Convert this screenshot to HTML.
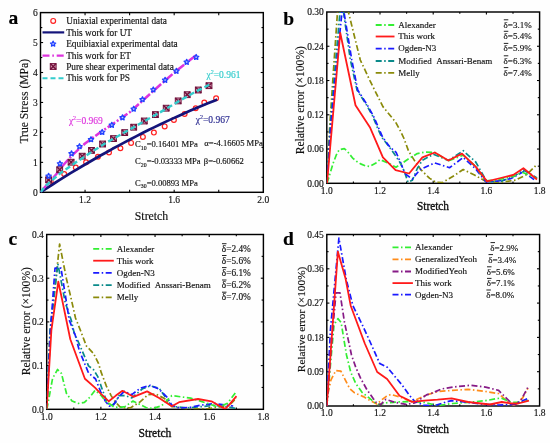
<!DOCTYPE html>
<html><head><meta charset="utf-8"><style>
html,body{margin:0;padding:0;background:#fff;}
svg{display:block;font-family:"Liberation Serif", serif;filter:blur(0.3px);}
</style></head><body>
<svg width="550" height="443" viewBox="0 0 550 443">
<rect width="550" height="443" fill="#fefefe"/>
<defs>
<clipPath id="ca"><rect x="40.5" y="12.6" width="222.8" height="179.7"/></clipPath>
<clipPath id="cb"><rect x="326.8" y="12" width="212.8" height="171.3"/></clipPath>
<clipPath id="cc"><rect x="46.7" y="234.5" width="216.7" height="174.8"/></clipPath>
<clipPath id="cd"><rect x="326.8" y="234.5" width="212.8" height="171.5"/></clipPath>
</defs>
<line x1="85.06" y1="192.3" x2="85.06" y2="189.70000000000002" stroke="#000" stroke-width="1.1"/>
<line x1="85.06" y1="12.6" x2="85.06" y2="15.2" stroke="#000" stroke-width="1.1"/>
<line x1="129.62" y1="192.3" x2="129.62" y2="189.70000000000002" stroke="#000" stroke-width="1.1"/>
<line x1="129.62" y1="12.6" x2="129.62" y2="15.2" stroke="#000" stroke-width="1.1"/>
<line x1="174.18000000000004" y1="192.3" x2="174.18000000000004" y2="189.70000000000002" stroke="#000" stroke-width="1.1"/>
<line x1="174.18000000000004" y1="12.6" x2="174.18000000000004" y2="15.2" stroke="#000" stroke-width="1.1"/>
<line x1="218.74" y1="192.3" x2="218.74" y2="189.70000000000002" stroke="#000" stroke-width="1.1"/>
<line x1="218.74" y1="12.6" x2="218.74" y2="15.2" stroke="#000" stroke-width="1.1"/>
<line x1="40.5" y1="162.35000000000002" x2="43.1" y2="162.35000000000002" stroke="#000" stroke-width="1.1"/>
<line x1="263.3" y1="162.35000000000002" x2="260.7" y2="162.35000000000002" stroke="#000" stroke-width="1.1"/>
<line x1="40.5" y1="132.4" x2="43.1" y2="132.4" stroke="#000" stroke-width="1.1"/>
<line x1="263.3" y1="132.4" x2="260.7" y2="132.4" stroke="#000" stroke-width="1.1"/>
<line x1="40.5" y1="102.45" x2="43.1" y2="102.45" stroke="#000" stroke-width="1.1"/>
<line x1="263.3" y1="102.45" x2="260.7" y2="102.45" stroke="#000" stroke-width="1.1"/>
<line x1="40.5" y1="72.5" x2="43.1" y2="72.5" stroke="#000" stroke-width="1.1"/>
<line x1="263.3" y1="72.5" x2="260.7" y2="72.5" stroke="#000" stroke-width="1.1"/>
<line x1="40.5" y1="42.55000000000001" x2="43.1" y2="42.55000000000001" stroke="#000" stroke-width="1.1"/>
<line x1="263.3" y1="42.55000000000001" x2="260.7" y2="42.55000000000001" stroke="#000" stroke-width="1.1"/>
<line x1="40.5" y1="177.32500000000002" x2="42.3" y2="177.32500000000002" stroke="#000" stroke-width="1.1"/>
<line x1="263.3" y1="177.32500000000002" x2="261.5" y2="177.32500000000002" stroke="#000" stroke-width="1.1"/>
<line x1="40.5" y1="147.375" x2="42.3" y2="147.375" stroke="#000" stroke-width="1.1"/>
<line x1="263.3" y1="147.375" x2="261.5" y2="147.375" stroke="#000" stroke-width="1.1"/>
<line x1="40.5" y1="117.42500000000001" x2="42.3" y2="117.42500000000001" stroke="#000" stroke-width="1.1"/>
<line x1="263.3" y1="117.42500000000001" x2="261.5" y2="117.42500000000001" stroke="#000" stroke-width="1.1"/>
<line x1="40.5" y1="87.475" x2="42.3" y2="87.475" stroke="#000" stroke-width="1.1"/>
<line x1="263.3" y1="87.475" x2="261.5" y2="87.475" stroke="#000" stroke-width="1.1"/>
<line x1="40.5" y1="57.525000000000006" x2="42.3" y2="57.525000000000006" stroke="#000" stroke-width="1.1"/>
<line x1="263.3" y1="57.525000000000006" x2="261.5" y2="57.525000000000006" stroke="#000" stroke-width="1.1"/>
<line x1="40.5" y1="27.57499999999999" x2="42.3" y2="27.57499999999999" stroke="#000" stroke-width="1.1"/>
<line x1="263.3" y1="27.57499999999999" x2="261.5" y2="27.57499999999999" stroke="#000" stroke-width="1.1"/>
<rect x="40.5" y="12.6" width="222.8" height="179.70000000000002" fill="none" stroke="#000" stroke-width="1.45"/>
<circle cx="50.7" cy="181.5" r="2.4" fill="none" stroke="#ff2020" stroke-width="1.2"/>
<circle cx="64.2" cy="174" r="2.4" fill="none" stroke="#ff2020" stroke-width="1.2"/>
<circle cx="75.8" cy="167.5" r="2.4" fill="none" stroke="#ff2020" stroke-width="1.2"/>
<circle cx="86.1" cy="162.2" r="2.4" fill="none" stroke="#ff2020" stroke-width="1.2"/>
<circle cx="97.9" cy="156.8" r="2.4" fill="none" stroke="#ff2020" stroke-width="1.2"/>
<circle cx="109" cy="152.5" r="2.4" fill="none" stroke="#ff2020" stroke-width="1.2"/>
<circle cx="120.4" cy="148.2" r="2.4" fill="none" stroke="#ff2020" stroke-width="1.2"/>
<circle cx="131.1" cy="142.9" r="2.4" fill="none" stroke="#ff2020" stroke-width="1.2"/>
<circle cx="142.9" cy="136.9" r="2.4" fill="none" stroke="#ff2020" stroke-width="1.2"/>
<circle cx="153.9" cy="132.6" r="2.4" fill="none" stroke="#ff2020" stroke-width="1.2"/>
<circle cx="164.7" cy="126.4" r="2.4" fill="none" stroke="#ff2020" stroke-width="1.2"/>
<circle cx="173.9" cy="120" r="2.4" fill="none" stroke="#ff2020" stroke-width="1.2"/>
<circle cx="184.6" cy="114" r="2.4" fill="none" stroke="#ff2020" stroke-width="1.2"/>
<circle cx="195.7" cy="108.2" r="2.4" fill="none" stroke="#ff2020" stroke-width="1.2"/>
<circle cx="204.3" cy="102.6" r="2.4" fill="none" stroke="#ff2020" stroke-width="1.2"/>
<circle cx="216.1" cy="98.3" r="2.4" fill="none" stroke="#ff2020" stroke-width="1.2"/>
<polyline points="40.5,192.3 46.5,188.4 52.5,184.5 58.5,180.7 64.5,176.9 70.5,173.2 76.5,169.6 82.5,166.0 88.5,162.5 94.5,159.0 100.5,155.5 106.5,152.2 112.5,148.8 118.5,145.6 124.5,142.4 130.5,139.2 136.5,136.1 142.5,133.0 148.5,130.0 154.5,127.1 160.5,124.2 166.5,121.4 172.5,118.6 178.5,115.9 184.5,113.2 190.5,110.6 196.5,108.0 202.5,105.5 208.5,103.1 214.5,100.7 217.2,99.6" fill="none" stroke="#14147a" stroke-width="2.7" stroke-linejoin="round" clip-path="url(#ca)"/>
<polyline points="40.5,192.3 44.0,188.0 50.0,181.5 56.0,174.5 63.0,165.5 70.0,157.5 78.0,149.8 85.0,143.5 100.0,132.5 115.0,122.5 130.0,112.0 145.0,98.5 160.0,85.0 175.0,72.0 190.0,60.0 197.0,54.5" fill="none" stroke="#dd33dd" stroke-width="2.5" stroke-dasharray="9,2,2,2" stroke-linejoin="round" clip-path="url(#ca)" stroke-dashoffset="11"/>
<rect x="45.70" y="176.90" width="5.80" height="5.80" fill="#d8a0b8" stroke="#70103a" stroke-width="1.0"/><path d="M45.70,176.90L51.50,182.70M51.50,176.90L45.70,182.70" stroke="#70103a" stroke-width="1.4"/>
<rect x="56.80" y="166.80" width="5.80" height="5.80" fill="#d8a0b8" stroke="#70103a" stroke-width="1.0"/><path d="M56.80,166.80L62.60,172.60M62.60,166.80L56.80,172.60" stroke="#70103a" stroke-width="1.4"/>
<rect x="68.20" y="159.30" width="5.80" height="5.80" fill="#d8a0b8" stroke="#70103a" stroke-width="1.0"/><path d="M68.20,159.30L74.00,165.10M74.00,159.30L68.20,165.10" stroke="#70103a" stroke-width="1.4"/>
<rect x="79.30" y="153.30" width="5.80" height="5.80" fill="#d8a0b8" stroke="#70103a" stroke-width="1.0"/><path d="M79.30,153.30L85.10,159.10M85.10,153.30L79.30,159.10" stroke="#70103a" stroke-width="1.4"/>
<rect x="88.60" y="147.50" width="5.80" height="5.80" fill="#d8a0b8" stroke="#70103a" stroke-width="1.0"/><path d="M88.60,147.50L94.40,153.30M94.40,147.50L88.60,153.30" stroke="#70103a" stroke-width="1.4"/>
<rect x="99.70" y="141.10" width="5.80" height="5.80" fill="#d8a0b8" stroke="#70103a" stroke-width="1.0"/><path d="M99.70,141.10L105.50,146.90M105.50,141.10L99.70,146.90" stroke="#70103a" stroke-width="1.4"/>
<rect x="110.60" y="135.70" width="5.80" height="5.80" fill="#d8a0b8" stroke="#70103a" stroke-width="1.0"/><path d="M110.60,135.70L116.40,141.50M116.40,135.70L110.60,141.50" stroke="#70103a" stroke-width="1.4"/>
<rect x="121.80" y="129.70" width="5.80" height="5.80" fill="#d8a0b8" stroke="#70103a" stroke-width="1.0"/><path d="M121.80,129.70L127.60,135.50M127.60,129.70L121.80,135.50" stroke="#70103a" stroke-width="1.4"/>
<rect x="130.80" y="124.30" width="5.80" height="5.80" fill="#d8a0b8" stroke="#70103a" stroke-width="1.0"/><path d="M130.80,124.30L136.60,130.10M136.60,124.30L130.80,130.10" stroke="#70103a" stroke-width="1.4"/>
<rect x="141.40" y="118.10" width="5.80" height="5.80" fill="#d8a0b8" stroke="#70103a" stroke-width="1.0"/><path d="M141.40,118.10L147.20,123.90M147.20,118.10L141.40,123.90" stroke="#70103a" stroke-width="1.4"/>
<rect x="152.50" y="111.70" width="5.80" height="5.80" fill="#d8a0b8" stroke="#70103a" stroke-width="1.0"/><path d="M152.50,111.70L158.30,117.50M158.30,111.70L152.50,117.50" stroke="#70103a" stroke-width="1.4"/>
<rect x="163.30" y="105.30" width="5.80" height="5.80" fill="#d8a0b8" stroke="#70103a" stroke-width="1.0"/><path d="M163.30,105.30L169.10,111.10M169.10,105.30L163.30,111.10" stroke="#70103a" stroke-width="1.4"/>
<rect x="175.30" y="98.00" width="5.80" height="5.80" fill="#d8a0b8" stroke="#70103a" stroke-width="1.0"/><path d="M175.30,98.00L181.10,103.80M181.10,98.00L175.30,103.80" stroke="#70103a" stroke-width="1.4"/>
<rect x="184.30" y="91.80" width="5.80" height="5.80" fill="#d8a0b8" stroke="#70103a" stroke-width="1.0"/><path d="M184.30,91.80L190.10,97.60M190.10,91.80L184.30,97.60" stroke="#70103a" stroke-width="1.4"/>
<rect x="195.40" y="87.10" width="5.80" height="5.80" fill="#d8a0b8" stroke="#70103a" stroke-width="1.0"/><path d="M195.40,87.10L201.20,92.90M201.20,87.10L195.40,92.90" stroke="#70103a" stroke-width="1.4"/>
<rect x="206.10" y="82.80" width="5.80" height="5.80" fill="#d8a0b8" stroke="#70103a" stroke-width="1.0"/><path d="M206.10,82.80L211.90,88.60M211.90,82.80L206.10,88.60" stroke="#70103a" stroke-width="1.4"/>
<polygon points="48.60,173.40 49.39,175.01 51.17,175.27 49.88,176.52 50.19,178.28 48.60,177.45 47.01,178.28 47.32,176.52 46.03,175.27 47.81,175.01" fill="#c8d0ff" stroke="#2040ff" stroke-width="1.35" stroke-linejoin="round"/>
<polygon points="59.90,161.00 60.69,162.61 62.47,162.87 61.18,164.12 61.49,165.88 59.90,165.05 58.31,165.88 58.62,164.12 57.33,162.87 59.11,162.61" fill="#c8d0ff" stroke="#2040ff" stroke-width="1.35" stroke-linejoin="round"/>
<polygon points="71.50,150.90 72.29,152.51 74.07,152.77 72.78,154.02 73.09,155.78 71.50,154.95 69.91,155.78 70.22,154.02 68.93,152.77 70.71,152.51" fill="#c8d0ff" stroke="#2040ff" stroke-width="1.35" stroke-linejoin="round"/>
<polygon points="79.50,143.80 80.29,145.41 82.07,145.67 80.78,146.92 81.09,148.68 79.50,147.85 77.91,148.68 78.22,146.92 76.93,145.67 78.71,145.41" fill="#c8d0ff" stroke="#2040ff" stroke-width="1.35" stroke-linejoin="round"/>
<polygon points="91.00,136.80 91.79,138.41 93.57,138.67 92.28,139.92 92.59,141.68 91.00,140.85 89.41,141.68 89.72,139.92 88.43,138.67 90.21,138.41" fill="#c8d0ff" stroke="#2040ff" stroke-width="1.35" stroke-linejoin="round"/>
<polygon points="102.20,129.50 102.99,131.11 104.77,131.37 103.48,132.62 103.79,134.38 102.20,133.55 100.61,134.38 100.92,132.62 99.63,131.37 101.41,131.11" fill="#c8d0ff" stroke="#2040ff" stroke-width="1.35" stroke-linejoin="round"/>
<polygon points="111.80,122.40 112.59,124.01 114.37,124.27 113.08,125.52 113.39,127.28 111.80,126.45 110.21,127.28 110.52,125.52 109.23,124.27 111.01,124.01" fill="#c8d0ff" stroke="#2040ff" stroke-width="1.35" stroke-linejoin="round"/>
<polygon points="122.50,114.90 123.29,116.51 125.07,116.77 123.78,118.02 124.09,119.78 122.50,118.95 120.91,119.78 121.22,118.02 119.93,116.77 121.71,116.51" fill="#c8d0ff" stroke="#2040ff" stroke-width="1.35" stroke-linejoin="round"/>
<polygon points="133.70,106.30 134.49,107.91 136.27,108.17 134.98,109.42 135.29,111.18 133.70,110.35 132.11,111.18 132.42,109.42 131.13,108.17 132.91,107.91" fill="#c8d0ff" stroke="#2040ff" stroke-width="1.35" stroke-linejoin="round"/>
<polygon points="142.50,96.80 143.29,98.41 145.07,98.67 143.78,99.92 144.09,101.68 142.50,100.85 140.91,101.68 141.22,99.92 139.93,98.67 141.71,98.41" fill="#c8d0ff" stroke="#2040ff" stroke-width="1.35" stroke-linejoin="round"/>
<polygon points="153.30,87.00 154.09,88.61 155.87,88.87 154.58,90.12 154.89,91.88 153.30,91.05 151.71,91.88 152.02,90.12 150.73,88.87 152.51,88.61" fill="#c8d0ff" stroke="#2040ff" stroke-width="1.35" stroke-linejoin="round"/>
<polygon points="165.10,77.40 165.89,79.01 167.67,79.27 166.38,80.52 166.69,82.28 165.10,81.45 163.51,82.28 163.82,80.52 162.53,79.27 164.31,79.01" fill="#c8d0ff" stroke="#2040ff" stroke-width="1.35" stroke-linejoin="round"/>
<polygon points="176.40,68.40 177.19,70.01 178.97,70.27 177.68,71.52 177.99,73.28 176.40,72.45 174.81,73.28 175.12,71.52 173.83,70.27 175.61,70.01" fill="#c8d0ff" stroke="#2040ff" stroke-width="1.35" stroke-linejoin="round"/>
<polygon points="186.70,59.40 187.49,61.01 189.27,61.27 187.98,62.52 188.29,64.28 186.70,63.45 185.11,64.28 185.42,62.52 184.13,61.27 185.91,61.01" fill="#c8d0ff" stroke="#2040ff" stroke-width="1.35" stroke-linejoin="round"/>
<polygon points="196.20,54.50 196.99,56.11 198.77,56.37 197.48,57.62 197.79,59.38 196.20,58.55 194.61,59.38 194.92,57.62 193.63,56.37 195.41,56.11" fill="#c8d0ff" stroke="#2040ff" stroke-width="1.35" stroke-linejoin="round"/>
<polyline points="40.5,192.3 45.0,186.5 50.0,182.0 60.0,173.5 75.0,163.0 90.0,153.0 105.0,143.5 120.0,135.0 135.0,126.5 150.0,118.0 165.0,109.5 180.0,100.5 195.0,92.0 211.8,83.5" fill="none" stroke="#33cccc" stroke-width="2.4" stroke-dasharray="5.5,3" stroke-linejoin="round" clip-path="url(#ca)"/>
<text x="37.8" y="195.60000000000002" font-size="9.5" text-anchor="end" font-weight="normal" fill="#111" stroke="#111" stroke-width="0.15">0</text>
<text x="37.8" y="165.65000000000003" font-size="9.5" text-anchor="end" font-weight="normal" fill="#111" stroke="#111" stroke-width="0.15">1</text>
<text x="37.8" y="135.70000000000002" font-size="9.5" text-anchor="end" font-weight="normal" fill="#111" stroke="#111" stroke-width="0.15">2</text>
<text x="37.8" y="105.75" font-size="9.5" text-anchor="end" font-weight="normal" fill="#111" stroke="#111" stroke-width="0.15">3</text>
<text x="37.8" y="75.8" font-size="9.5" text-anchor="end" font-weight="normal" fill="#111" stroke="#111" stroke-width="0.15">4</text>
<text x="37.8" y="45.85000000000001" font-size="9.5" text-anchor="end" font-weight="normal" fill="#111" stroke="#111" stroke-width="0.15">5</text>
<text x="37.8" y="15.899999999999995" font-size="9.5" text-anchor="end" font-weight="normal" fill="#111" stroke="#111" stroke-width="0.15">6</text>
<text x="85.06" y="203" font-size="9.5" text-anchor="middle" font-weight="normal" fill="#111" stroke="#111" stroke-width="0.15">1.2</text>
<text x="174.18000000000004" y="203" font-size="9.5" text-anchor="middle" font-weight="normal" fill="#111" stroke="#111" stroke-width="0.15">1.6</text>
<text x="263.3" y="203" font-size="9.5" text-anchor="middle" font-weight="normal" fill="#111" stroke="#111" stroke-width="0.15">2.0</text>
<text x="151.5" y="220.3" font-size="12" text-anchor="middle" font-weight="normal" fill="#111" stroke="#111" stroke-width="0.15" textLength="33.4" lengthAdjust="spacingAndGlyphs">Stretch</text>
<text transform="translate(28.4,101.3) rotate(-90)" font-size="11.6" text-anchor="middle" fill="#111" stroke="#111" stroke-width="0.15">True Stress (MPa)</text>
<text x="13.3" y="24.4" font-size="19.5" text-anchor="middle" font-weight="bold" fill="#000" stroke="#000" stroke-width="0.15">a</text>
<circle cx="53.2" cy="20.9" r="2.4" fill="none" stroke="#ff2020" stroke-width="1.2"/>
<text x="66.2" y="24.2" font-size="9.3" text-anchor="start" font-weight="normal" fill="#111" stroke="#111" stroke-width="0.15">Uniaxial experimental data</text>
<line x1="42.5" y1="32.4" x2="64.2" y2="32.4" stroke="#14147a" stroke-width="2.2"/>
<text x="66.2" y="35.6" font-size="9.3" text-anchor="start" font-weight="normal" fill="#111" stroke="#111" stroke-width="0.15">This work for UT</text>
<polygon points="53.10,41.20 53.89,42.81 55.67,43.07 54.38,44.32 54.69,46.08 53.10,45.25 51.51,46.08 51.82,44.32 50.53,43.07 52.31,42.81" fill="#c8d0ff" stroke="#2040ff" stroke-width="1.35" stroke-linejoin="round"/>
<text x="66.2" y="46.8" font-size="9.3" text-anchor="start" font-weight="normal" fill="#111" stroke="#111" stroke-width="0.15">Equibiaxial experimental data</text>
<line x1="42.5" y1="55.6" x2="64.2" y2="55.6" stroke="#dd33dd" stroke-width="2.2" stroke-dasharray="7,2.8,1.6,2.8"/>
<text x="66.2" y="59.1" font-size="9.3" text-anchor="start" font-weight="normal" fill="#111" stroke="#111" stroke-width="0.15">This work for ET</text>
<rect x="50.30" y="63.60" width="5.80" height="5.80" fill="#d8a0b8" stroke="#70103a" stroke-width="1.0"/><path d="M50.30,63.60L56.10,69.40M56.10,63.60L50.30,69.40" stroke="#70103a" stroke-width="1.4"/>
<text x="66.2" y="69.6" font-size="9.3" text-anchor="start" font-weight="normal" fill="#111" stroke="#111" stroke-width="0.15">Pure shear experimental data</text>
<line x1="42.5" y1="78.2" x2="64.2" y2="78.2" stroke="#33cccc" stroke-width="2" stroke-dasharray="5,3"/>
<text x="66.2" y="81.2" font-size="9.3" text-anchor="start" font-weight="normal" fill="#111" stroke="#111" stroke-width="0.15">This work for PS</text>
<text x="68.9" y="123.6" font-size="9.5" text-anchor="start" font-weight="normal" fill="#dd33dd" stroke="#dd33dd" stroke-width="0.15">χ<tspan font-size="6" dy="-4">2</tspan><tspan dy="4">=0.969</tspan></text>
<text x="206.5" y="78.2" font-size="9.5" text-anchor="start" font-weight="normal" fill="#33cccc" stroke="#33cccc" stroke-width="0.15">χ<tspan font-size="6" dy="-4">2</tspan><tspan dy="4">=0.961</tspan></text>
<text x="195.7" y="122.5" font-size="9.5" text-anchor="start" font-weight="normal" fill="#2a2a90" stroke="#2a2a90" stroke-width="0.15">χ<tspan font-size="6" dy="-4">2</tspan><tspan dy="4">=0.967</tspan></text>
<text x="135.1" y="147.3" font-size="8.6" text-anchor="start" font-weight="normal" fill="#111" stroke="#111" stroke-width="0.15">C<tspan font-size="5.8" dy="2.5">10</tspan><tspan dy="-2.5">=0.16401 MPa</tspan></text>
<text x="204.3" y="145.8" font-size="8.6" text-anchor="start" font-weight="normal" fill="#111" stroke="#111" stroke-width="0.15">α=-4.16605 MPa</text>
<text x="135.1" y="164.4" font-size="8.6" text-anchor="start" font-weight="normal" fill="#111" stroke="#111" stroke-width="0.15">C<tspan font-size="5.8" dy="2.5">20</tspan><tspan dy="-2.5">=-0.03333 MPa</tspan></text>
<text x="203.8" y="163.8" font-size="8.6" text-anchor="start" font-weight="normal" fill="#111" stroke="#111" stroke-width="0.15">β=-0.60662</text>
<text x="135.1" y="185.5" font-size="8.6" text-anchor="start" font-weight="normal" fill="#111" stroke="#111" stroke-width="0.15">C<tspan font-size="5.8" dy="2.5">30</tspan><tspan dy="-2.5">=0.00893 MPa</tspan></text>
<line x1="380.0" y1="183.3" x2="380.0" y2="180.70000000000002" stroke="#000" stroke-width="1.1"/>
<line x1="380.0" y1="12" x2="380.0" y2="14.6" stroke="#000" stroke-width="1.1"/>
<line x1="433.2" y1="183.3" x2="433.2" y2="180.70000000000002" stroke="#000" stroke-width="1.1"/>
<line x1="433.2" y1="12" x2="433.2" y2="14.6" stroke="#000" stroke-width="1.1"/>
<line x1="486.40000000000003" y1="183.3" x2="486.40000000000003" y2="180.70000000000002" stroke="#000" stroke-width="1.1"/>
<line x1="486.40000000000003" y1="12" x2="486.40000000000003" y2="14.6" stroke="#000" stroke-width="1.1"/>
<line x1="353.40000000000003" y1="183.3" x2="353.40000000000003" y2="181.5" stroke="#000" stroke-width="1.1"/>
<line x1="353.40000000000003" y1="12" x2="353.40000000000003" y2="13.8" stroke="#000" stroke-width="1.1"/>
<line x1="406.6" y1="183.3" x2="406.6" y2="181.5" stroke="#000" stroke-width="1.1"/>
<line x1="406.6" y1="12" x2="406.6" y2="13.8" stroke="#000" stroke-width="1.1"/>
<line x1="459.8" y1="183.3" x2="459.8" y2="181.5" stroke="#000" stroke-width="1.1"/>
<line x1="459.8" y1="12" x2="459.8" y2="13.8" stroke="#000" stroke-width="1.1"/>
<line x1="513.0" y1="183.3" x2="513.0" y2="181.5" stroke="#000" stroke-width="1.1"/>
<line x1="513.0" y1="12" x2="513.0" y2="13.8" stroke="#000" stroke-width="1.1"/>
<line x1="326.8" y1="149.04000000000002" x2="329.40000000000003" y2="149.04000000000002" stroke="#000" stroke-width="1.1"/>
<line x1="539.6" y1="149.04000000000002" x2="537.0" y2="149.04000000000002" stroke="#000" stroke-width="1.1"/>
<line x1="326.8" y1="114.78" x2="329.40000000000003" y2="114.78" stroke="#000" stroke-width="1.1"/>
<line x1="539.6" y1="114.78" x2="537.0" y2="114.78" stroke="#000" stroke-width="1.1"/>
<line x1="326.8" y1="80.52000000000001" x2="329.40000000000003" y2="80.52000000000001" stroke="#000" stroke-width="1.1"/>
<line x1="539.6" y1="80.52000000000001" x2="537.0" y2="80.52000000000001" stroke="#000" stroke-width="1.1"/>
<line x1="326.8" y1="46.25999999999999" x2="329.40000000000003" y2="46.25999999999999" stroke="#000" stroke-width="1.1"/>
<line x1="539.6" y1="46.25999999999999" x2="537.0" y2="46.25999999999999" stroke="#000" stroke-width="1.1"/>
<line x1="326.8" y1="166.17000000000002" x2="328.6" y2="166.17000000000002" stroke="#000" stroke-width="1.1"/>
<line x1="539.6" y1="166.17000000000002" x2="537.8000000000001" y2="166.17000000000002" stroke="#000" stroke-width="1.1"/>
<line x1="326.8" y1="131.91000000000003" x2="328.6" y2="131.91000000000003" stroke="#000" stroke-width="1.1"/>
<line x1="539.6" y1="131.91000000000003" x2="537.8000000000001" y2="131.91000000000003" stroke="#000" stroke-width="1.1"/>
<line x1="326.8" y1="97.65" x2="328.6" y2="97.65" stroke="#000" stroke-width="1.1"/>
<line x1="539.6" y1="97.65" x2="537.8000000000001" y2="97.65" stroke="#000" stroke-width="1.1"/>
<line x1="326.8" y1="63.390000000000015" x2="328.6" y2="63.390000000000015" stroke="#000" stroke-width="1.1"/>
<line x1="539.6" y1="63.390000000000015" x2="537.8000000000001" y2="63.390000000000015" stroke="#000" stroke-width="1.1"/>
<line x1="326.8" y1="29.129999999999967" x2="328.6" y2="29.129999999999967" stroke="#000" stroke-width="1.1"/>
<line x1="539.6" y1="29.129999999999967" x2="537.8000000000001" y2="29.129999999999967" stroke="#000" stroke-width="1.1"/>
<rect x="326.8" y="12" width="212.8" height="171.3" fill="none" stroke="#000" stroke-width="1.45"/>
<polyline points="327.0,183.3 329.5,130.0 332.8,80.0 337.5,12.0 340.0,-20.0 345.0,-20.0 348.4,12.0 360.3,60.0 370.2,81.2 382.9,106.6 395.6,122.1 399.9,130.0 404.0,138.5 408.6,151.1 414.8,161.1 421.0,169.8 429.7,178.4 435.9,182.2 442.7,182.5 454.0,175.7 463.2,169.5 474.5,175.0 485.9,181.4 499.5,182.5 515.5,180.2 526.8,174.5 535.9,165.5" fill="none" stroke="#8a8a0a" stroke-width="1.7" stroke-dasharray="6,2.5,1.5,2.5" stroke-linejoin="round" clip-path="url(#cb)"/>
<polyline points="327.0,183.3 330.0,130.0 334.0,80.0 340.0,12.0 341.5,-2.0 350.4,60.0 357.0,90.0 366.5,104.9 372.5,115.7 377.0,126.6 381.5,137.0 388.7,146.1 393.7,153.0 399.9,162.3 404.2,171.0 408.0,182.2 412.3,180.3 417.3,168.5 422.2,160.4 433.4,154.2 448.4,160.5 463.2,150.7 475.7,162.0 487.0,181.8 500.7,181.4 513.2,176.8 523.4,170.0 537.0,178.0" fill="none" stroke="#0a8a8a" stroke-width="1.7" stroke-dasharray="6,2.5,1.5,2.5" stroke-linejoin="round" clip-path="url(#cb)"/>
<polyline points="327.0,183.3 330.5,130.0 335.0,80.0 342.0,12.0 342.8,5.0 351.8,60.0 357.7,90.0 367.2,104.9 373.3,115.7 378.0,126.6 382.5,137.0 389.5,146.5 396.1,152.4 400.5,162.3 404.8,173.5 412.3,179.1 419.8,169.8 434.7,162.9 449.5,167.7 463.2,157.5 475.7,168.9 485.9,181.8 498.4,180.9 510.9,178.6 523.4,171.8 535.9,180.9" fill="none" stroke="#1a1aff" stroke-width="1.7" stroke-dasharray="6,2.5,1.5,2.5" stroke-linejoin="round" clip-path="url(#cb)"/>
<polyline points="327.0,183.3 329.6,175.1 333.1,163.4 336.2,155.2 339.2,149.7 344.3,148.6 347.3,151.2 352.4,157.8 356.5,161.3 360.6,163.9 365.6,165.9 369.7,166.4 376.0,162.9 380.0,159.6 389.0,163.5 396.0,167.3 401.7,163.5 409.8,158.0 417.3,153.6 424.7,152.1 434.7,152.6 448.4,160.9 463.2,155.2 474.5,165.5 485.9,180.9 499.5,179.5 513.2,176.4 522.3,172.3 537.0,178.6" fill="none" stroke="#33ee33" stroke-width="1.7" stroke-dasharray="6,2.5,1.5,2.5" stroke-linejoin="round" clip-path="url(#cb)"/>
<polyline points="327.0,183.3 340.2,32.8 355.5,105.2 370.2,127.8 382.9,157.4 395.6,170.1 409.1,173.5 422.4,157.4 434.8,152.5 448.4,160.5 462.0,153.6 475.7,166.6 487.0,181.4 500.7,178.0 513.2,175.0 523.4,168.2 537.0,179.5" fill="none" stroke="#ff1a1a" stroke-width="1.8" stroke-linejoin="round" clip-path="url(#cb)"/>
<text x="323.8" y="186.60000000000002" font-size="9.5" text-anchor="end" font-weight="normal" fill="#111" stroke="#111" stroke-width="0.15">0.00</text>
<text x="323.8" y="152.34000000000003" font-size="9.5" text-anchor="end" font-weight="normal" fill="#111" stroke="#111" stroke-width="0.15">0.06</text>
<text x="323.8" y="118.08" font-size="9.5" text-anchor="end" font-weight="normal" fill="#111" stroke="#111" stroke-width="0.15">0.12</text>
<text x="323.8" y="83.82000000000001" font-size="9.5" text-anchor="end" font-weight="normal" fill="#111" stroke="#111" stroke-width="0.15">0.18</text>
<text x="323.8" y="49.55999999999999" font-size="9.5" text-anchor="end" font-weight="normal" fill="#111" stroke="#111" stroke-width="0.15">0.24</text>
<text x="323.8" y="15.3" font-size="9.5" text-anchor="end" font-weight="normal" fill="#111" stroke="#111" stroke-width="0.15">0.30</text>
<text x="326.8" y="193.5" font-size="9.5" text-anchor="middle" font-weight="normal" fill="#111" stroke="#111" stroke-width="0.15">1.0</text>
<text x="380.0" y="193.5" font-size="9.5" text-anchor="middle" font-weight="normal" fill="#111" stroke="#111" stroke-width="0.15">1.2</text>
<text x="433.2" y="193.5" font-size="9.5" text-anchor="middle" font-weight="normal" fill="#111" stroke="#111" stroke-width="0.15">1.4</text>
<text x="486.40000000000003" y="193.5" font-size="9.5" text-anchor="middle" font-weight="normal" fill="#111" stroke="#111" stroke-width="0.15">1.6</text>
<text x="539.6" y="193.5" font-size="9.5" text-anchor="middle" font-weight="normal" fill="#111" stroke="#111" stroke-width="0.15">1.8</text>
<text x="433" y="210.3" font-size="12" text-anchor="middle" font-weight="normal" fill="#111" stroke="#111" stroke-width="0.35" textLength="32" lengthAdjust="spacingAndGlyphs">Stretch</text>
<text transform="translate(304.3,100.2) rotate(-90)" font-size="11.6" text-anchor="middle" fill="#111" stroke="#111" stroke-width="0.15">Relative error (×100%)</text>
<text x="288.7" y="25.1" font-size="19.5" text-anchor="middle" font-weight="bold" fill="#000" stroke="#000" stroke-width="0.15">b</text>
<line x1="375.7" y1="25.0" x2="394.5" y2="25.0" stroke="#33ee33" stroke-width="1.8" stroke-dasharray="6,2.5,1.5,2.5"/>
<text x="398.2" y="27.8" font-size="9" text-anchor="start" font-weight="normal" fill="#111" stroke="#111" stroke-width="0.15">Alexander</text>
<line x1="375.7" y1="36.5" x2="394.5" y2="36.5" stroke="#ff1a1a" stroke-width="1.8"/>
<text x="398.2" y="39.3" font-size="9" text-anchor="start" font-weight="normal" fill="#111" stroke="#111" stroke-width="0.15">This work</text>
<line x1="375.7" y1="48.6" x2="394.5" y2="48.6" stroke="#1a1aff" stroke-width="1.8" stroke-dasharray="6,2.5,1.5,2.5"/>
<text x="398.2" y="51.4" font-size="9" text-anchor="start" font-weight="normal" fill="#111" stroke="#111" stroke-width="0.15">Ogden-N3</text>
<line x1="375.7" y1="61.0" x2="394.5" y2="61.0" stroke="#0a8a8a" stroke-width="1.8" stroke-dasharray="6,2.5,1.5,2.5"/>
<text x="398.2" y="63.8" font-size="9" text-anchor="start" font-weight="normal" fill="#111" stroke="#111" stroke-width="0.15">Modified&#160;&#160;Anssari-Benam</text>
<line x1="375.7" y1="72.8" x2="394.5" y2="72.8" stroke="#8a8a0a" stroke-width="1.8" stroke-dasharray="6,2.5,1.5,2.5"/>
<text x="398.2" y="75.6" font-size="9" text-anchor="start" font-weight="normal" fill="#111" stroke="#111" stroke-width="0.15">Melly</text>
<text x="503.6" y="27.8" font-size="9" text-anchor="start" font-weight="normal" fill="#111" stroke="#111" stroke-width="0.15">δ=3.1%</text>
<line x1="503.8" y1="19.8" x2="508.3" y2="19.8" stroke="#222" stroke-width="1.0"/>
<text x="503.6" y="39.3" font-size="9" text-anchor="start" font-weight="normal" fill="#111" stroke="#111" stroke-width="0.15">δ=5.4%</text>
<line x1="503.8" y1="31.299999999999997" x2="508.3" y2="31.299999999999997" stroke="#222" stroke-width="1.0"/>
<text x="503.6" y="51.4" font-size="9" text-anchor="start" font-weight="normal" fill="#111" stroke="#111" stroke-width="0.15">δ=5.9%</text>
<line x1="503.8" y1="43.4" x2="508.3" y2="43.4" stroke="#222" stroke-width="1.0"/>
<text x="503.6" y="63.8" font-size="9" text-anchor="start" font-weight="normal" fill="#111" stroke="#111" stroke-width="0.15">δ=6.3%</text>
<line x1="503.8" y1="55.8" x2="508.3" y2="55.8" stroke="#222" stroke-width="1.0"/>
<text x="503.6" y="75.6" font-size="9" text-anchor="start" font-weight="normal" fill="#111" stroke="#111" stroke-width="0.15">δ=7.4%</text>
<line x1="503.8" y1="67.6" x2="508.3" y2="67.6" stroke="#222" stroke-width="1.0"/>
<line x1="100.87499999999999" y1="409.3" x2="100.87499999999999" y2="406.7" stroke="#000" stroke-width="1.1"/>
<line x1="100.87499999999999" y1="234.5" x2="100.87499999999999" y2="237.1" stroke="#000" stroke-width="1.1"/>
<line x1="155.04999999999995" y1="409.3" x2="155.04999999999995" y2="406.7" stroke="#000" stroke-width="1.1"/>
<line x1="155.04999999999995" y1="234.5" x2="155.04999999999995" y2="237.1" stroke="#000" stroke-width="1.1"/>
<line x1="209.22500000000002" y1="409.3" x2="209.22500000000002" y2="406.7" stroke="#000" stroke-width="1.1"/>
<line x1="209.22500000000002" y1="234.5" x2="209.22500000000002" y2="237.1" stroke="#000" stroke-width="1.1"/>
<line x1="73.78750000000002" y1="409.3" x2="73.78750000000002" y2="407.5" stroke="#000" stroke-width="1.1"/>
<line x1="73.78750000000002" y1="234.5" x2="73.78750000000002" y2="236.3" stroke="#000" stroke-width="1.1"/>
<line x1="127.9625" y1="409.3" x2="127.9625" y2="407.5" stroke="#000" stroke-width="1.1"/>
<line x1="127.9625" y1="234.5" x2="127.9625" y2="236.3" stroke="#000" stroke-width="1.1"/>
<line x1="182.1375" y1="409.3" x2="182.1375" y2="407.5" stroke="#000" stroke-width="1.1"/>
<line x1="182.1375" y1="234.5" x2="182.1375" y2="236.3" stroke="#000" stroke-width="1.1"/>
<line x1="236.31250000000006" y1="409.3" x2="236.31250000000006" y2="407.5" stroke="#000" stroke-width="1.1"/>
<line x1="236.31250000000006" y1="234.5" x2="236.31250000000006" y2="236.3" stroke="#000" stroke-width="1.1"/>
<line x1="46.7" y1="365.6" x2="49.300000000000004" y2="365.6" stroke="#000" stroke-width="1.1"/>
<line x1="263.4" y1="365.6" x2="260.79999999999995" y2="365.6" stroke="#000" stroke-width="1.1"/>
<line x1="46.7" y1="321.9" x2="49.300000000000004" y2="321.9" stroke="#000" stroke-width="1.1"/>
<line x1="263.4" y1="321.9" x2="260.79999999999995" y2="321.9" stroke="#000" stroke-width="1.1"/>
<line x1="46.7" y1="278.2" x2="49.300000000000004" y2="278.2" stroke="#000" stroke-width="1.1"/>
<line x1="263.4" y1="278.2" x2="260.79999999999995" y2="278.2" stroke="#000" stroke-width="1.1"/>
<line x1="46.7" y1="387.45" x2="48.5" y2="387.45" stroke="#000" stroke-width="1.1"/>
<line x1="263.4" y1="387.45" x2="261.59999999999997" y2="387.45" stroke="#000" stroke-width="1.1"/>
<line x1="46.7" y1="343.75" x2="48.5" y2="343.75" stroke="#000" stroke-width="1.1"/>
<line x1="263.4" y1="343.75" x2="261.59999999999997" y2="343.75" stroke="#000" stroke-width="1.1"/>
<line x1="46.7" y1="300.05" x2="48.5" y2="300.05" stroke="#000" stroke-width="1.1"/>
<line x1="263.4" y1="300.05" x2="261.59999999999997" y2="300.05" stroke="#000" stroke-width="1.1"/>
<line x1="46.7" y1="256.35" x2="48.5" y2="256.35" stroke="#000" stroke-width="1.1"/>
<line x1="263.4" y1="256.35" x2="261.59999999999997" y2="256.35" stroke="#000" stroke-width="1.1"/>
<rect x="46.7" y="234.5" width="216.7" height="174.8" fill="none" stroke="#000" stroke-width="1.45"/>
<polyline points="46.7,409.3 50.4,330.0 59.6,244.0 66.5,279.0 71.0,298.0 75.5,318.0 80.5,330.5 86.4,346.0 93.6,353.6 98.6,363.7 101.2,372.4 106.4,386.1 111.1,395.6 114.9,401.3 119.7,406.6 124.4,408.0 130.7,407.7 139.5,402.3 148.2,394.6 155.8,394.1 164.5,398.5 171.8,406.3 186.4,409.2 208.2,408.7 222.7,406.3 229.3,405.1 236.5,398.0" fill="none" stroke="#8a8a0a" stroke-width="1.7" stroke-dasharray="6,2.5,1.5,2.5" stroke-linejoin="round" clip-path="url(#cc)"/>
<polyline points="46.7,409.3 50.0,330.0 57.9,263.9 65.2,302.5 71.2,320.0 74.1,332.8 80.3,346.4 88.5,365.8 93.6,369.8 97.8,376.6 102.1,389.0 107.3,403.2 112.1,405.1 115.9,402.3 118.7,395.7 125.3,395.7 131.8,397.9 142.7,388.6 150.4,385.9 159.1,388.1 166.0,398.0 171.8,406.3 186.4,408.0 202.4,406.5 214.0,405.4 225.6,406.5 236.0,408.4" fill="none" stroke="#0a8a8a" stroke-width="1.7" stroke-dasharray="6,2.5,1.5,2.5" stroke-linejoin="round" clip-path="url(#cc)"/>
<polyline points="46.7,409.3 50.5,330.0 55.0,268.2 61.0,268.2 66.5,302.5 69.2,320.0 75.3,335.4 79.3,350.5 88.5,372.9 95.6,379.0 100.7,391.8 105.4,401.3 109.2,406.1 113.0,405.6 118.3,397.5 124.2,391.4 131.8,394.6 140.5,388.1 150.4,385.4 159.1,389.2 166.7,396.8 171.8,405.1 179.1,408.0 190.7,407.3 200.9,405.1 215.5,403.6 225.6,405.1 233.2,406.0" fill="none" stroke="#1a1aff" stroke-width="1.7" stroke-dasharray="6,2.5,1.5,2.5" stroke-linejoin="round" clip-path="url(#cc)"/>
<polyline points="46.7,409.3 47.5,406.1 52.6,378.3 57.6,369.5 61.4,373.3 66.5,393.5 72.0,401.0 78.3,403.4 84.4,402.4 90.0,397.0 95.0,390.5 100.7,395.0 105.4,401.0 110.2,404.2 114.0,407.0 119.7,407.5 125.0,406.6 133.0,401.0 140.0,404.5 146.0,407.5 153.0,408.5 161.6,405.8 171.8,395.6 190.7,398.1 208.2,403.6 218.4,407.3 227.5,403.2 236.5,391.3" fill="none" stroke="#33ee33" stroke-width="1.7" stroke-dasharray="6,2.5,1.5,2.5" stroke-linejoin="round" clip-path="url(#cc)"/>
<polyline points="46.7,409.3 51.4,330.0 58.3,281.7 62.2,300.0 70.3,339.2 84.9,378.8 95.0,387.6 100.7,393.7 108.8,401.3 115.9,395.6 122.5,390.8 133.5,396.8 147.1,391.4 158.7,397.8 164.5,401.5 171.8,406.3 179.1,402.2 198.0,399.0 211.4,401.3 219.0,405.6 225.1,408.9 228.5,405.6 236.5,396.1" fill="none" stroke="#ff1a1a" stroke-width="1.8" stroke-linejoin="round" clip-path="url(#cc)"/>
<text x="43.8" y="412.6" font-size="9.5" text-anchor="end" font-weight="normal" fill="#111" stroke="#111" stroke-width="0.15">0.0</text>
<text x="43.8" y="368.90000000000003" font-size="9.5" text-anchor="end" font-weight="normal" fill="#111" stroke="#111" stroke-width="0.15">0.1</text>
<text x="43.8" y="325.2" font-size="9.5" text-anchor="end" font-weight="normal" fill="#111" stroke="#111" stroke-width="0.15">0.2</text>
<text x="43.8" y="281.5" font-size="9.5" text-anchor="end" font-weight="normal" fill="#111" stroke="#111" stroke-width="0.15">0.3</text>
<text x="43.8" y="237.8" font-size="9.5" text-anchor="end" font-weight="normal" fill="#111" stroke="#111" stroke-width="0.15">0.4</text>
<text x="46.7" y="419.7" font-size="9.5" text-anchor="middle" font-weight="normal" fill="#111" stroke="#111" stroke-width="0.15">1.0</text>
<text x="100.87499999999999" y="419.7" font-size="9.5" text-anchor="middle" font-weight="normal" fill="#111" stroke="#111" stroke-width="0.15">1.2</text>
<text x="155.04999999999995" y="419.7" font-size="9.5" text-anchor="middle" font-weight="normal" fill="#111" stroke="#111" stroke-width="0.15">1.4</text>
<text x="209.22500000000002" y="419.7" font-size="9.5" text-anchor="middle" font-weight="normal" fill="#111" stroke="#111" stroke-width="0.15">1.6</text>
<text x="263.4" y="419.7" font-size="9.5" text-anchor="middle" font-weight="normal" fill="#111" stroke="#111" stroke-width="0.15">1.8</text>
<text x="155" y="436.7" font-size="12" text-anchor="middle" font-weight="normal" fill="#111" stroke="#111" stroke-width="0.35" textLength="32.8" lengthAdjust="spacingAndGlyphs">Stretch</text>
<text transform="translate(29.5,321.2) rotate(-90)" font-size="11.6" text-anchor="middle" fill="#111" stroke="#111" stroke-width="0.15">Relative error (×100%)</text>
<text x="12.8" y="245.4" font-size="19.5" text-anchor="middle" font-weight="bold" fill="#000" stroke="#000" stroke-width="0.15">c</text>
<line x1="93.2" y1="248.89999999999998" x2="113.8" y2="248.89999999999998" stroke="#33ee33" stroke-width="1.8" stroke-dasharray="6,2.5,1.5,2.5"/>
<text x="116.7" y="251.7" font-size="9" text-anchor="start" font-weight="normal" fill="#111" stroke="#111" stroke-width="0.15">Alexander</text>
<line x1="93.2" y1="260.7" x2="113.8" y2="260.7" stroke="#ff1a1a" stroke-width="1.8"/>
<text x="116.7" y="263.5" font-size="9" text-anchor="start" font-weight="normal" fill="#111" stroke="#111" stroke-width="0.15">This work</text>
<line x1="93.2" y1="272.8" x2="113.8" y2="272.8" stroke="#1a1aff" stroke-width="1.8" stroke-dasharray="6,2.5,1.5,2.5"/>
<text x="116.7" y="275.6" font-size="9" text-anchor="start" font-weight="normal" fill="#111" stroke="#111" stroke-width="0.15">Ogden-N3</text>
<line x1="93.2" y1="285.2" x2="113.8" y2="285.2" stroke="#0a8a8a" stroke-width="1.8" stroke-dasharray="6,2.5,1.5,2.5"/>
<text x="116.7" y="288" font-size="9" text-anchor="start" font-weight="normal" fill="#111" stroke="#111" stroke-width="0.15">Modified&#160;&#160;Anssari-Benam</text>
<line x1="93.2" y1="297.4" x2="113.8" y2="297.4" stroke="#8a8a0a" stroke-width="1.8" stroke-dasharray="6,2.5,1.5,2.5"/>
<text x="116.7" y="300.2" font-size="9" text-anchor="start" font-weight="normal" fill="#111" stroke="#111" stroke-width="0.15">Melly</text>
<text x="221.8" y="251.7" font-size="9.3" text-anchor="start" font-weight="normal" fill="#111" stroke="#111" stroke-width="0.15">δ=2.4%</text>
<line x1="222.0" y1="243.7" x2="226.5" y2="243.7" stroke="#222" stroke-width="1.0"/>
<text x="221.8" y="263.5" font-size="9.3" text-anchor="start" font-weight="normal" fill="#111" stroke="#111" stroke-width="0.15">δ=5.6%</text>
<line x1="222.0" y1="255.5" x2="226.5" y2="255.5" stroke="#222" stroke-width="1.0"/>
<text x="221.8" y="275.6" font-size="9.3" text-anchor="start" font-weight="normal" fill="#111" stroke="#111" stroke-width="0.15">δ=6.1%</text>
<line x1="222.0" y1="267.6" x2="226.5" y2="267.6" stroke="#222" stroke-width="1.0"/>
<text x="221.8" y="288" font-size="9.3" text-anchor="start" font-weight="normal" fill="#111" stroke="#111" stroke-width="0.15">δ=6.2%</text>
<line x1="222.0" y1="280.0" x2="226.5" y2="280.0" stroke="#222" stroke-width="1.0"/>
<text x="221.8" y="300.2" font-size="9.3" text-anchor="start" font-weight="normal" fill="#111" stroke="#111" stroke-width="0.15">δ=7.0%</text>
<line x1="222.0" y1="292.2" x2="226.5" y2="292.2" stroke="#222" stroke-width="1.0"/>
<line x1="380.0" y1="406" x2="380.0" y2="403.4" stroke="#000" stroke-width="1.1"/>
<line x1="380.0" y1="234.5" x2="380.0" y2="237.1" stroke="#000" stroke-width="1.1"/>
<line x1="433.2" y1="406" x2="433.2" y2="403.4" stroke="#000" stroke-width="1.1"/>
<line x1="433.2" y1="234.5" x2="433.2" y2="237.1" stroke="#000" stroke-width="1.1"/>
<line x1="486.40000000000003" y1="406" x2="486.40000000000003" y2="403.4" stroke="#000" stroke-width="1.1"/>
<line x1="486.40000000000003" y1="234.5" x2="486.40000000000003" y2="237.1" stroke="#000" stroke-width="1.1"/>
<line x1="353.40000000000003" y1="406" x2="353.40000000000003" y2="404.2" stroke="#000" stroke-width="1.1"/>
<line x1="353.40000000000003" y1="234.5" x2="353.40000000000003" y2="236.3" stroke="#000" stroke-width="1.1"/>
<line x1="406.6" y1="406" x2="406.6" y2="404.2" stroke="#000" stroke-width="1.1"/>
<line x1="406.6" y1="234.5" x2="406.6" y2="236.3" stroke="#000" stroke-width="1.1"/>
<line x1="459.8" y1="406" x2="459.8" y2="404.2" stroke="#000" stroke-width="1.1"/>
<line x1="459.8" y1="234.5" x2="459.8" y2="236.3" stroke="#000" stroke-width="1.1"/>
<line x1="513.0" y1="406" x2="513.0" y2="404.2" stroke="#000" stroke-width="1.1"/>
<line x1="513.0" y1="234.5" x2="513.0" y2="236.3" stroke="#000" stroke-width="1.1"/>
<line x1="326.8" y1="371.7" x2="329.40000000000003" y2="371.7" stroke="#000" stroke-width="1.1"/>
<line x1="539.6" y1="371.7" x2="537.0" y2="371.7" stroke="#000" stroke-width="1.1"/>
<line x1="326.8" y1="337.4" x2="329.40000000000003" y2="337.4" stroke="#000" stroke-width="1.1"/>
<line x1="539.6" y1="337.4" x2="537.0" y2="337.4" stroke="#000" stroke-width="1.1"/>
<line x1="326.8" y1="303.1" x2="329.40000000000003" y2="303.1" stroke="#000" stroke-width="1.1"/>
<line x1="539.6" y1="303.1" x2="537.0" y2="303.1" stroke="#000" stroke-width="1.1"/>
<line x1="326.8" y1="268.8" x2="329.40000000000003" y2="268.8" stroke="#000" stroke-width="1.1"/>
<line x1="539.6" y1="268.8" x2="537.0" y2="268.8" stroke="#000" stroke-width="1.1"/>
<line x1="326.8" y1="388.85" x2="328.6" y2="388.85" stroke="#000" stroke-width="1.1"/>
<line x1="539.6" y1="388.85" x2="537.8000000000001" y2="388.85" stroke="#000" stroke-width="1.1"/>
<line x1="326.8" y1="354.55" x2="328.6" y2="354.55" stroke="#000" stroke-width="1.1"/>
<line x1="539.6" y1="354.55" x2="537.8000000000001" y2="354.55" stroke="#000" stroke-width="1.1"/>
<line x1="326.8" y1="320.25" x2="328.6" y2="320.25" stroke="#000" stroke-width="1.1"/>
<line x1="539.6" y1="320.25" x2="537.8000000000001" y2="320.25" stroke="#000" stroke-width="1.1"/>
<line x1="326.8" y1="285.95" x2="328.6" y2="285.95" stroke="#000" stroke-width="1.1"/>
<line x1="539.6" y1="285.95" x2="537.8000000000001" y2="285.95" stroke="#000" stroke-width="1.1"/>
<line x1="326.8" y1="251.65" x2="328.6" y2="251.65" stroke="#000" stroke-width="1.1"/>
<line x1="539.6" y1="251.65" x2="537.8000000000001" y2="251.65" stroke="#000" stroke-width="1.1"/>
<rect x="326.8" y="234.5" width="212.8" height="171.5" fill="none" stroke="#000" stroke-width="1.45"/>
<polyline points="326.8,406.0 327.2,397.2 331.0,379.8 335.9,370.5 340.9,371.1 344.6,378.6 349.6,388.5 354.6,392.9 363.3,396.6 372.0,401.6 376.9,404.1 381.9,399.7 386.0,396.6 390.8,394.4 399.5,396.9 412.0,401.9 424.4,395.7 437.5,391.5 452.7,390.4 468.0,389.3 485.5,391.5 498.6,393.6 507.3,401.3 513.8,405.6 522.6,398.0 528.0,388.2" fill="none" stroke="#ff8c1a" stroke-width="1.7" stroke-dasharray="6,2.5,1.5,2.5" stroke-linejoin="round" clip-path="url(#cd)"/>
<polyline points="326.8,406.0 330.0,370.0 334.0,325.0 337.9,318.6 341.1,322.4 344.0,340.0 346.5,355.0 350.8,372.4 355.8,383.6 362.0,392.3 368.2,397.2 374.4,402.2 379.4,404.7 386.0,402.8 399.5,401.9 412.0,401.4 424.4,402.4 437.5,405.6 452.7,403.5 468.0,402.4 485.5,400.6 500.7,398.0 511.6,402.4 520.4,402.4 528.0,400.2" fill="none" stroke="#33ee33" stroke-width="1.7" stroke-dasharray="6,2.5,1.5,2.5" stroke-linejoin="round" clip-path="url(#cd)"/>
<polyline points="326.8,406.0 331.0,350.0 336.0,292.9 340.0,292.9 344.5,322.4 349.8,347.0 351.5,355.0 355.8,367.4 360.8,378.6 367.0,389.8 373.2,398.5 376.9,403.4 380.7,404.7 385.8,399.3 394.5,402.2 406.2,404.4 414.9,402.9 426.5,394.9 431.8,393.2 441.8,388.9 452.7,387.1 470.2,385.3 485.5,387.1 498.6,390.4 507.3,399.1 513.8,405.6 520.4,401.3 528.0,387.1" fill="none" stroke="#861a86" stroke-width="1.7" stroke-dasharray="6,2.5,1.5,2.5" stroke-linejoin="round" clip-path="url(#cd)"/>
<polyline points="326.8,406.0 330.4,330.0 338.9,238.2 346.4,280.0 352.9,305.7 362.3,324.8 369.7,341.0 379.7,363.4 387.3,367.3 394.5,376.0 401.8,384.7 409.1,394.9 414.9,401.5 423.6,405.1 433.8,405.8 445.5,402.2 451.6,400.6 468.0,402.4 485.5,404.5 498.6,405.0 513.8,404.5 528.0,398.4" fill="none" stroke="#1a1aff" stroke-width="1.7" stroke-dasharray="6,2.5,1.5,2.5" stroke-linejoin="round" clip-path="url(#cd)"/>
<polyline points="326.8,406.0 337.9,251.7 345.4,277.9 350.7,305.7 364.8,343.5 377.2,372.0 387.1,379.0 399.5,395.7 412.0,401.9 424.4,400.6 437.5,399.7 451.6,398.4 468.0,402.0 489.8,404.5 501.8,402.0 511.6,403.5 518.2,403.5 529.0,400.6" fill="none" stroke="#ff1a1a" stroke-width="1.8" stroke-linejoin="round" clip-path="url(#cd)"/>
<text x="323.8" y="409.3" font-size="9.5" text-anchor="end" font-weight="normal" fill="#111" stroke="#111" stroke-width="0.15">0.00</text>
<text x="323.8" y="375.0" font-size="9.5" text-anchor="end" font-weight="normal" fill="#111" stroke="#111" stroke-width="0.15">0.09</text>
<text x="323.8" y="340.7" font-size="9.5" text-anchor="end" font-weight="normal" fill="#111" stroke="#111" stroke-width="0.15">0.18</text>
<text x="323.8" y="306.40000000000003" font-size="9.5" text-anchor="end" font-weight="normal" fill="#111" stroke="#111" stroke-width="0.15">0.27</text>
<text x="323.8" y="272.1" font-size="9.5" text-anchor="end" font-weight="normal" fill="#111" stroke="#111" stroke-width="0.15">0.36</text>
<text x="323.8" y="237.80000000000004" font-size="9.5" text-anchor="end" font-weight="normal" fill="#111" stroke="#111" stroke-width="0.15">0.45</text>
<text x="326.8" y="416.4" font-size="9.5" text-anchor="middle" font-weight="normal" fill="#111" stroke="#111" stroke-width="0.15">1.0</text>
<text x="380.0" y="416.4" font-size="9.5" text-anchor="middle" font-weight="normal" fill="#111" stroke="#111" stroke-width="0.15">1.2</text>
<text x="433.2" y="416.4" font-size="9.5" text-anchor="middle" font-weight="normal" fill="#111" stroke="#111" stroke-width="0.15">1.4</text>
<text x="486.40000000000003" y="416.4" font-size="9.5" text-anchor="middle" font-weight="normal" fill="#111" stroke="#111" stroke-width="0.15">1.6</text>
<text x="539.6" y="416.4" font-size="9.5" text-anchor="middle" font-weight="normal" fill="#111" stroke="#111" stroke-width="0.15">1.8</text>
<text x="433" y="432.6" font-size="12" text-anchor="middle" font-weight="normal" fill="#111" stroke="#111" stroke-width="0.35" textLength="32" lengthAdjust="spacingAndGlyphs">Stretch</text>
<text transform="translate(304.5,319.4) rotate(-90)" font-size="11.3" text-anchor="middle" fill="#111" stroke="#111" stroke-width="0.15">Relative error (×100%)</text>
<text x="288.4" y="245.3" font-size="19.5" text-anchor="middle" font-weight="bold" fill="#000" stroke="#000" stroke-width="0.15">d</text>
<line x1="392.5" y1="247.29999999999998" x2="412.9" y2="247.29999999999998" stroke="#33ee33" stroke-width="1.8" stroke-dasharray="6,2.5,1.5,2.5"/>
<text x="415" y="250.1" font-size="9" text-anchor="start" font-weight="normal" fill="#111" stroke="#111" stroke-width="0.15">Alexander</text>
<line x1="392.5" y1="259.3" x2="412.9" y2="259.3" stroke="#ff8c1a" stroke-width="1.8" stroke-dasharray="6,2.5,1.5,2.5"/>
<text x="415" y="262.1" font-size="9" text-anchor="start" font-weight="normal" fill="#111" stroke="#111" stroke-width="0.15">GeneralizedYeoh</text>
<line x1="392.5" y1="271.5" x2="412.9" y2="271.5" stroke="#861a86" stroke-width="1.8" stroke-dasharray="6,2.5,1.5,2.5"/>
<text x="415" y="274.3" font-size="9" text-anchor="start" font-weight="normal" fill="#111" stroke="#111" stroke-width="0.15">ModifiedYeoh</text>
<line x1="392.5" y1="283.09999999999997" x2="412.9" y2="283.09999999999997" stroke="#ff1a1a" stroke-width="1.8"/>
<text x="415" y="285.9" font-size="9" text-anchor="start" font-weight="normal" fill="#111" stroke="#111" stroke-width="0.15">This work</text>
<line x1="392.5" y1="294.7" x2="412.9" y2="294.7" stroke="#1a1aff" stroke-width="1.8" stroke-dasharray="6,2.5,1.5,2.5"/>
<text x="415" y="297.5" font-size="9" text-anchor="start" font-weight="normal" fill="#111" stroke="#111" stroke-width="0.15">Ogden-N3</text>
<text x="490.3" y="250.6" font-size="9" text-anchor="start" font-weight="normal" fill="#111" stroke="#111" stroke-width="0.15">δ=2.9%</text>
<line x1="490.5" y1="242.6" x2="495.0" y2="242.6" stroke="#222" stroke-width="1.0"/>
<text x="488.3" y="262.6" font-size="9" text-anchor="start" font-weight="normal" fill="#111" stroke="#111" stroke-width="0.15">δ=3.4%</text>
<line x1="488.5" y1="254.60000000000002" x2="493.0" y2="254.60000000000002" stroke="#222" stroke-width="1.0"/>
<text x="486.8" y="274.8" font-size="9" text-anchor="start" font-weight="normal" fill="#111" stroke="#111" stroke-width="0.15">δ=5.6%</text>
<line x1="487.0" y1="266.8" x2="491.5" y2="266.8" stroke="#222" stroke-width="1.0"/>
<text x="486.8" y="286.4" font-size="9" text-anchor="start" font-weight="normal" fill="#111" stroke="#111" stroke-width="0.15">δ=7.1%</text>
<line x1="487.0" y1="278.4" x2="491.5" y2="278.4" stroke="#222" stroke-width="1.0"/>
<text x="486.2" y="298.0" font-size="9" text-anchor="start" font-weight="normal" fill="#111" stroke="#111" stroke-width="0.15">δ=8.0%</text>
<line x1="486.4" y1="290.0" x2="490.9" y2="290.0" stroke="#222" stroke-width="1.0"/>
</svg>
</body></html>
